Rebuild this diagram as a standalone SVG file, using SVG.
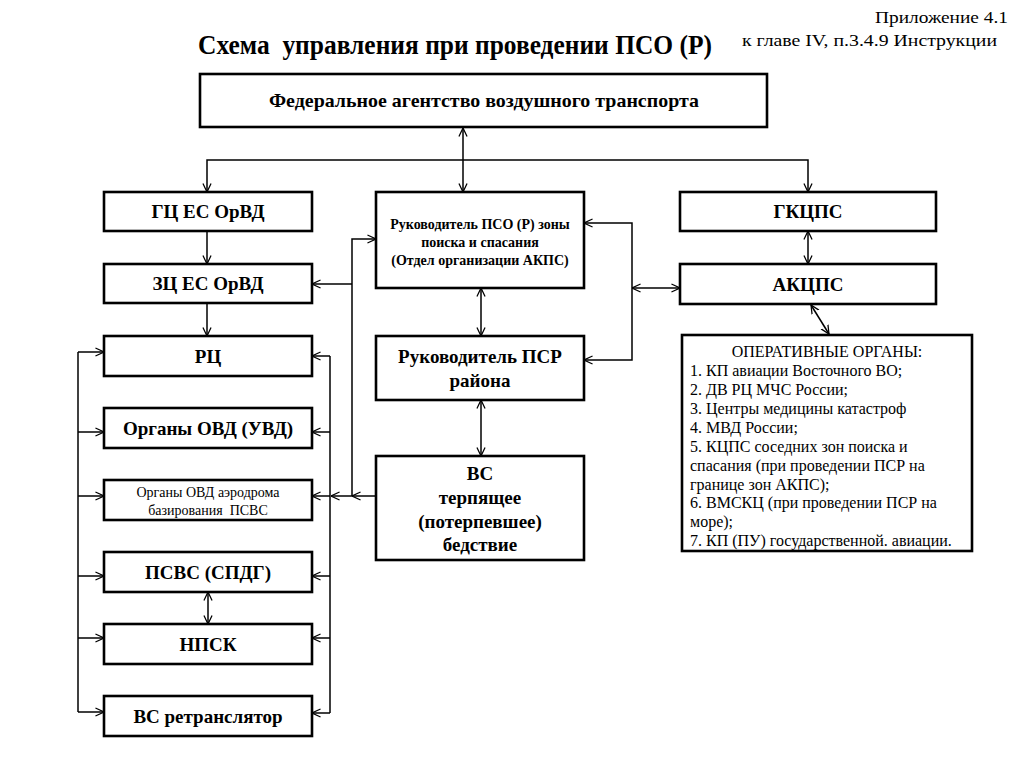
<svg xmlns="http://www.w3.org/2000/svg" width="1024" height="768" viewBox="0 0 1024 768">
<style>
.box{fill:#fff;stroke:#000;stroke-width:2.6}
.ln{fill:none;stroke:#000;stroke-width:1.5}
.e{marker-end:url(#a)}
.d{marker-start:url(#a);marker-end:url(#a)}
text{font-family:"Liberation Serif","Times New Roman","DejaVu Serif",serif;fill:#000}
.b{font-weight:bold;font-size:19px;text-anchor:middle}
.m{font-weight:bold;font-size:14px;text-anchor:middle}
.r{font-size:16px}
.s{font-size:14px;text-anchor:middle}
</style>
<defs>
<marker id="a" viewBox="0 0 10 10" refX="9.5" refY="5" markerWidth="9" markerHeight="10" markerUnits="userSpaceOnUse" orient="auto-start-reverse">
<path d="M0,0.5 L9.5,5 L0,9.5" fill="none" stroke="#000" stroke-width="1.4"/>
</marker>
</defs>
<rect width="1024" height="768" fill="#fff"/>

<g id="header">
<text x="1008" y="23" font-size="17" text-anchor="end" textLength="133" lengthAdjust="spacingAndGlyphs">Приложение 4.1</text>
<text x="742" y="46" font-size="17" textLength="255" lengthAdjust="spacingAndGlyphs">к главе IV, п.3.4.9 Инструкции</text>
<text x="198" y="54" font-size="27" font-weight="bold" textLength="514" lengthAdjust="spacingAndGlyphs" xml:space="preserve">Схема  управления при проведении ПСО (Р)</text>
</g>

<g id="connectors">
<path class="ln d" d="M463,128 V192"/>
<path class="ln e" d="M463,160 H207 V192"/>
<path class="ln e" d="M463,160 H808 V192"/>
<path class="ln e" d="M207,231 V264"/>
<path class="ln e" d="M207,303 V336"/>
<path class="ln d" d="M208,592 V624"/>
<path class="ln d" d="M481,288 V336"/>
<path class="ln d" d="M481,400 V456"/>
<path class="ln d" d="M808,231 V264"/>
<path class="ln d" d="M811,305 L829,334"/>
<path class="ln d" d="M584,223 H632 V360 H584"/>
<path class="ln d" d="M632,288 H680"/>
<path class="ln" d="M78,352 V712"/>
<path class="ln e" d="M78,352 H104"/>
<path class="ln e" d="M78,432 H104"/>
<path class="ln e" d="M78,496 H104"/>
<path class="ln e" d="M78,576 H104"/>
<path class="ln e" d="M78,638 H104"/>
<path class="ln e" d="M78,712 H104"/>
<path class="ln" d="M330,356 V713"/>
<path class="ln e" d="M330,356 H312"/>
<path class="ln e" d="M330,432 H312"/>
<path class="ln e" d="M330,496 H312"/>
<path class="ln e" d="M330,576 H312"/>
<path class="ln e" d="M330,638 H312"/>
<path class="ln e" d="M330,713 H312"/>
<path class="ln e" d="M376,496 H352"/>
<path class="ln e" d="M352,496 H331"/>
<path class="ln e" d="M352,496 V239 H376"/>
<path class="ln e" d="M352,284 H312"/>
</g>

<g id="fed">
<rect class="box" x="200" y="74" width="567" height="53"/>
<text class="b" x="484" y="107" textLength="430" lengthAdjust="spacingAndGlyphs">Федеральное агентство воздушного транспорта</text>
</g>

<g id="gc">
<rect class="box" x="104" y="192" width="208" height="39"/>
<text class="b" x="208" y="218">ГЦ ЕС ОрВД</text>
</g>
<g id="zc">
<rect class="box" x="104" y="264" width="208" height="39"/>
<text class="b" x="208" y="290">ЗЦ ЕС ОрВД</text>
</g>
<g id="rc">
<rect class="box" x="104" y="336" width="208" height="40"/>
<text class="b" x="208" y="363">РЦ</text>
</g>
<g id="ovd">
<rect class="box" x="104" y="408" width="208" height="40"/>
<text class="b" x="208" y="435">Органы ОВД (УВД)</text>
</g>
<g id="ovd-aero">
<rect class="box" x="104" y="480" width="208" height="40"/>
<text class="s" x="208" y="497">Органы ОВД аэродрома</text>
<text class="s" x="208" y="515" xml:space="preserve">базирования  ПСВС</text>
</g>
<g id="psvs">
<rect class="box" x="104" y="552" width="208" height="40"/>
<text class="b" x="208" y="579">ПСВС (СПДГ)</text>
</g>
<g id="npsk">
<rect class="box" x="104" y="624" width="208" height="40"/>
<text class="b" x="208" y="651">НПСК</text>
</g>
<g id="vs-retr">
<rect class="box" x="104" y="696" width="208" height="40"/>
<text class="b" x="208" y="723">ВС ретранслятор</text>
</g>

<g id="rpso">
<rect class="box" x="376" y="192" width="208" height="96"/>
<text class="m" x="480" y="229">Руководитель ПСО (Р) зоны</text>
<text class="m" x="480" y="247">поиска и спасания</text>
<text class="m" x="480" y="265">(Отдел организации АКПС)</text>
</g>
<g id="rpsr">
<rect class="box" x="376" y="336" width="208" height="64"/>
<text class="b" x="480" y="363">Руководитель ПСР</text>
<text class="b" x="480" y="387">района</text>
</g>
<g id="vs">
<rect class="box" x="376" y="456" width="208" height="104"/>
<text class="b" x="480" y="480">ВС</text>
<text class="b" x="480" y="504">терпящее</text>
<text class="b" x="480" y="528">(потерпевшее)</text>
<text class="b" x="480" y="551">бедствие</text>
</g>

<g id="gkcps">
<rect class="box" x="680" y="192" width="256" height="39"/>
<text class="b" x="808" y="218">ГКЦПС</text>
</g>
<g id="akcps">
<rect class="box" x="680" y="264" width="256" height="40"/>
<text class="b" x="808" y="291">АКЦПС</text>
</g>
<g id="oper">
<rect class="box" x="682" y="335" width="290" height="216"/>
<text class="r" x="827" y="357" text-anchor="middle">ОПЕРАТИВНЫЕ ОРГАНЫ:</text>
<text class="r" x="690" y="376">1. КП авиации Восточного ВО;</text>
<text class="r" x="690" y="395">2. ДВ РЦ МЧС России;</text>
<text class="r" x="690" y="414">3. Центры медицины катастроф</text>
<text class="r" x="690" y="433">4. МВД России;</text>
<text class="r" x="690" y="452">5. КЦПС соседних зон поиска и</text>
<text class="r" x="690" y="471">спасания (при проведении ПСР на</text>
<text class="r" x="690" y="490">границе зон АКПС);</text>
<text class="r" x="690" y="508">6. ВМСКЦ (при проведении ПСР на</text>
<text class="r" x="690" y="527">море);</text>
<text class="r" x="690" y="546">7. КП (ПУ) государственной. авиации.</text>
</g>
</svg>
